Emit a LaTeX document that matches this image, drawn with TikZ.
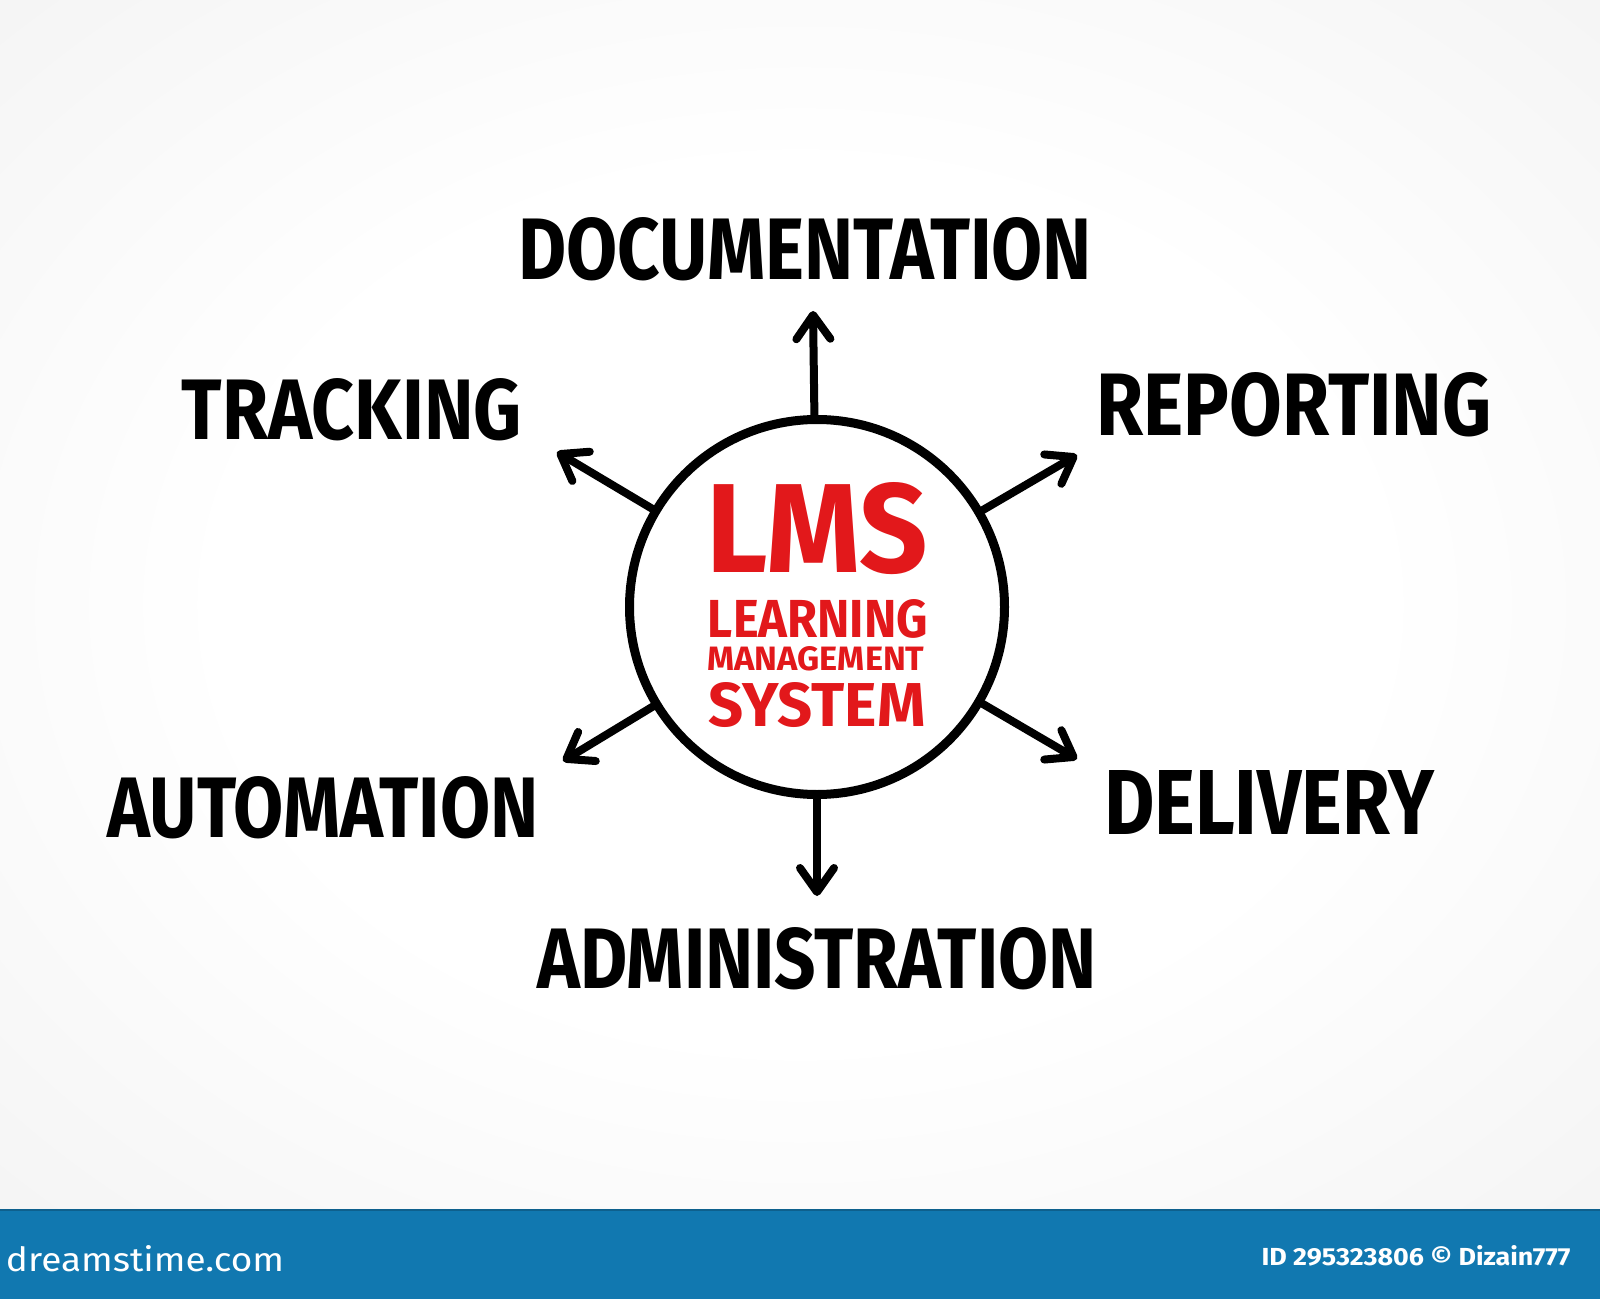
\documentclass[tikz,border=0pt]{standalone}
\usepackage{fontspec}
\setmainfont{Fira Sans}
\usetikzlibrary{arrows.meta}

\definecolor{lmsred}{RGB}{226,24,27}
\definecolor{barblue}{RGB}{17,120,176}
\definecolor{paper}{RGB}{229,229,229}
\pgfdeclareradialshading{paperglow}{\pgfpoint{0bp}{0bp}}{color(0bp)=(white); color(18bp)=(white); color(62bp)=(paper); color(72bp)=(paper)}

% text squeezed into a given box (width, height)
\newcommand{\fitbox}[3]{\resizebox{#1}{#2}{\bfseries #3}}

\tikzset{
  item/.style={inner sep=0pt, text=black},
  core/.style={inner sep=0pt, text=lmsred},
  arr/.style={line width=4pt, line cap=round,
    -{Straight Barb[length=12pt,width=17pt,round]}},
}

\begin{document}
\begin{tikzpicture}[x=0.5pt,y=-0.5pt]
\useasboundingbox (0,0) rectangle (1600,1299);
% background and bottom bar
\shade[shading=paperglow] (0,0) rectangle (1600,1209);
\fill[barblue] (0,1209) rectangle (1600,1299);
\draw[barblue!80!black, line width=1pt] (0,1210) -- (1600,1210);

% hub
\node[draw, circle, fill=white, line width=4.5pt, minimum size=187.5pt, inner sep=0pt] (hub) at (817,607) {};
\node[core] (lms)    at (817,529) {\fitbox{110.5pt}{45pt}{LMS}};
\node[core] (learn)  at (818,619) {\fitbox{110pt}{19pt}{LEARNING}};
\node[core] (manage) at (816,659) {\fitbox{108.5pt}{12pt}{MANAGEMENT}};
\node[core] (sys)    at (817,705) {\fitbox{108.5pt}{22pt}{SYSTEM}};

% labels
\node[item] (doc)    at (805,249)  {\fitbox{287pt}{31pt}{DOCUMENTATION}};
\node[item] (track)  at (352,410)  {\fitbox{170pt}{30.5pt}{TRACKING}};
\node[item] (report) at (1294,405) {\fitbox{197.5pt}{31.5pt}{REPORTING}};
\node[item] (auto)   at (323,808)  {\fitbox{215.5pt}{30.5pt}{AUTOMATION}};
\node[item] (deliv)  at (1269,802) {\fitbox{165pt}{32pt}{DELIVERY}};
\node[item] (admin)  at (817,959)  {\fitbox{279.5pt}{30.5pt}{ADMINISTRATION}};

% arrow tips
\coordinate (tDoc)    at (813,311);
\coordinate (tTrack)  at (557,452);
\coordinate (tReport) at (1077,455);
\coordinate (tAuto)   at (563,761);
\coordinate (tDeliv)  at (1077,759);
\coordinate (tAdmin)  at (817,896);
\foreach \t in {tDoc,tTrack,tReport,tAuto,tDeliv,tAdmin} {
\draw[arr] (hub) -- (\t);
}

% footer
\node[inner sep=0pt, text=white] (site) at (145,1259) {\resizebox{139pt}{13pt}{dreamstime.com}};
\node[inner sep=0pt, text=white] (credit) at (1416,1256) {\fitbox{154.5pt}{10pt}{ID 295323806 © Dizain777}};
\end{tikzpicture}
\end{document}
